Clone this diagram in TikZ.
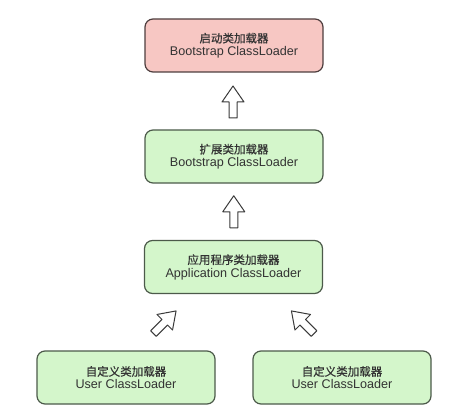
\documentclass[tikz,border=0pt]{standalone}
\usepackage{fontspec}
\setmainfont{Liberation Sans}
\newfontfamily\cjk[AutoFakeBold=0.6]{Noto Sans CJK SC}
\usetikzlibrary{calc}
\definecolor{pinkfill}{HTML}{F7C7C3}
\definecolor{pinkline}{HTML}{4E3E3E}
\definecolor{greenfill}{HTML}{D4F6CB}
\definecolor{greenline}{HTML}{4C5A4A}
\definecolor{txt}{HTML}{333333}
\definecolor{arrowline}{HTML}{3A3A3A}
\tikzset{
  loader/.style={rectangle, rounded corners=8pt, minimum width=178pt, minimum height=53pt,
    line width=1.2pt, align=center, text=txt, inner sep=0pt},
  pinkbox/.style={loader, draw=pinkline, fill=pinkfill},
  greenbox/.style={loader, draw=greenline, fill=greenfill},
  blockarrow/.pic={
    \draw[line width=1pt, draw=arrowline, fill=white, line join=round]
      (0,-16) -- (11,0) -- (4,0) -- (4,16) -- (-4,16) -- (-4,0) -- (-11,0) -- cycle;
  }
}
\newcommand{\lbl}[2]{{\cjk\bfseries\fontsize{11.5}{17}\selectfont #1}\\[1pt]{\fontsize{12.6}{15}\selectfont #2}}
\begin{document}
\begin{tikzpicture}[x=1pt,y=-1pt]
\useasboundingbox (0,0) rectangle (474,417);
\node[pinkbox]  (boot) at (234,45.5)  {\lbl{启动类加载器}{Bootstrap ClassLoader}};
\node[greenbox] (ext)  at (234,156.5) {\lbl{扩展类加载器}{Bootstrap ClassLoader}};
\node[greenbox] (app)  at (233.5,267) {\lbl{应用程序类加载器}{Application ClassLoader}};
\node[greenbox] (userA) at (126,377.5) {\lbl{自定义类加载器}{User ClassLoader}};
\node[greenbox] (userB) at (342,377.5) {\lbl{自定义类加载器}{User ClassLoader}};
\pic at ($(boot.south)!0.5!(ext.north)+(-1,1)$) {blockarrow};
\pic at ($(ext.south)!0.5!(app.north)$) {blockarrow};
\pic[rotate=-45] at ($(app.south)!0.5!(userA.north)+(-15,0)$) {blockarrow};
\pic[rotate=45] at ($(app.south)!0.5!(userB.north)+(15,0)$) {blockarrow};
\end{tikzpicture}
\end{document}
